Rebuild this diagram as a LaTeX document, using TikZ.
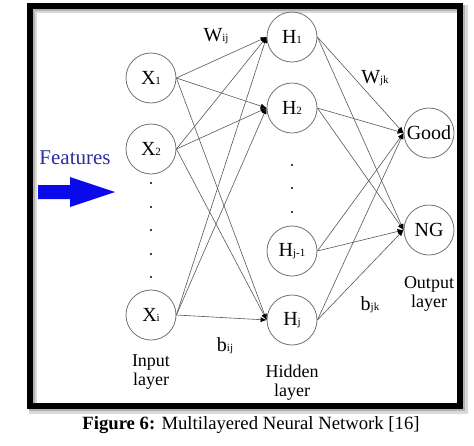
\documentclass[tikz,border=0pt]{standalone}
\usepackage{fontspec}
\setmainfont{Liberation Serif}
\usetikzlibrary{arrows.meta}
\newcommand\sbs[1]{{\fontsize{11}{11}\selectfont #1}}
\definecolor{featblue}{RGB}{45,45,160}
\definecolor{arrblue}{RGB}{10,10,235}
\begin{document}
\begin{tikzpicture}[x=1pt,y=-1pt,
  neuron/.style={circle,draw=black!55,line width=0.8pt,minimum size=50pt,inner sep=0pt,font=\fontsize{20}{20}\selectfont},
  conn/.style={draw=black!65,line width=0.6pt,-{Latex[length=6pt,width=5pt,color=black]}},
  lbl/.style={font=\fontsize{18}{19}\selectfont,align=center,inner sep=0pt},
  wlbl/.style={font=\fontsize{20}{20}\selectfont,inner sep=0pt},
  dotmark/.style={circle,fill=black,inner sep=0pt,minimum size=2.2pt}]
\useasboundingbox (0,0) rectangle (474,445);
\fill[white] (0,0) rectangle (474,445);
% frame with soft shadow
\draw[black!15,line width=8pt] (33,9) rectangle (464,410);
\draw[black!30,line width=6pt] (32,8) rectangle (462,408);
\draw[black,line width=6pt] (30,6) rectangle (460,406);
% input layer
\node[neuron] (x1) at (151,78) {X\sbs{1}};
\node[neuron] (x2) at (151,149) {X\sbs{2}};
\node[neuron] (xi) at (151,315) {X\sbs{i}};
\foreach \yy/\nm in {183/a,207/b,230/c,254/d,277/e}
  \node[dotmark] (dx\nm) at (151,\yy) {};
% hidden layer
\node[neuron] (h1) at (292,37) {H\sbs{1}};
\node[neuron] (h2) at (292,108) {H\sbs{2}};
\node[neuron] (hj1) at (292,251) {H\sbs{j-1}};
\node[neuron] (hj) at (292,320) {H\sbs{j}};
\foreach \yy/\nm in {165/a,188/b,212/c}
  \node[dotmark] (dh\nm) at (292,\yy) {};
% output layer
\node[neuron] (good) at (429,133) {Good};
\node[neuron] (ng) at (429,230) {NG};
% connections input -> hidden
\foreach \s in {x1,x2,xi}
  \foreach \t in {h1,h2,hj}
    \draw[conn] (\s.east) -- (\t.west);
% connections hidden -> output
\foreach \s in {h1,h2,hj1,hj}
  \foreach \t in {good,ng}
    \draw[conn] (\s.east) -- (\t.west);
% weight labels
\node[wlbl] (wij) at (216,36) {W\sbs{ij}};
\node[wlbl] (wjk) at (375,78) {W\sbs{jk}};
\node[wlbl] (bij) at (225,346) {b\sbs{ij}};
\node[wlbl] (bjk) at (370,305) {b\sbs{jk}};
% layer labels
\node[lbl] (inl) at (151,372) {Input\\layer};
\node[lbl] (hil) at (292,383) {Hidden\\layer};
\node[lbl] (oul) at (429,294) {Output\\layer};
% features
\node[text=featblue,font=\fontsize{21}{21}\selectfont,inner sep=0pt] (feat) at (75,158) {Features};
\fill[arrblue] (38,185) -- (70,185) -- (70,177) -- (115,192) -- (70,207) -- (70,199) -- (38,199) -- cycle;
% caption
\node[font=\fontsize{18.7}{19}\selectfont,inner sep=0pt] (cap) at (251,425) {\textbf{Figure 6:} Multilayered Neural Network [16]};
\end{tikzpicture}
\end{document}
